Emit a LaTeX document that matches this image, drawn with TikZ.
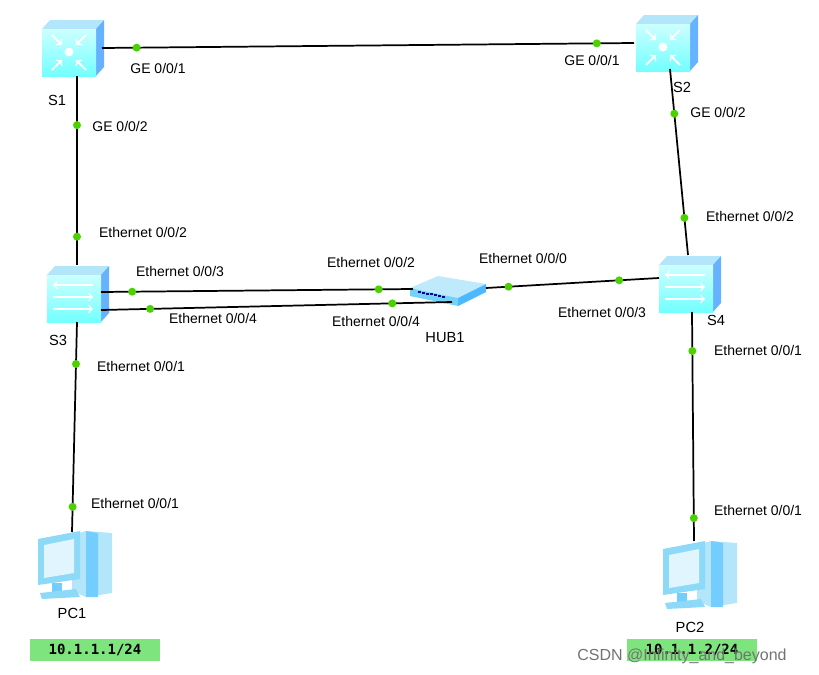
\documentclass[tikz,border=0pt]{standalone}
\usepackage{fontspec}
\setmainfont{Liberation Sans}
\newfontfamily\monof{DejaVu Sans Mono}
\begin{document}
\begin{tikzpicture}[x=0.75pt,y=-0.75pt,
  lbl/.style={font=\fontsize{10.5}{12}\selectfont,inner sep=0pt},
  dev/.style={font=\fontsize{11}{13}\selectfont,inner sep=0pt},
  link/.style={line width=1.3pt,black},
  port/.style={circle,fill=green!70!black!60!lime,inner sep=0pt,minimum size=6pt},
  ip/.style={fill=green!45!white!90!black,font=\monof\fontsize{10.5}{12}\selectfont\bfseries,minimum width=97pt,minimum height=17pt,inner sep=1pt},
  pics/switch/.style={code={
    \fill[cyan!30] (-30,-18) -- (-22,-27) -- (32,-27) -- (24,-18) -- cycle;
    \fill[blue!50!cyan!60] (24,-18) -- (32,-27) -- (32,20) -- (24,29) -- cycle;
    \shade[top color=cyan!20,bottom color=cyan!55] (-30,-18) rectangle (24,29);
  }},
  pics/hub/.style={code={
    \fill[cyan!25] (-38,-2) -- (-10,-14) -- (38,-6) -- (10,8) -- cycle;
    \fill[cyan!55] (-38,-2) -- (10,8) -- (10,16) -- (-38,6) -- cycle;
    \fill[blue!40!cyan!70] (10,8) -- (38,-6) -- (38,2) -- (10,16) -- cycle;
    \foreach \i in {0,...,6} \fill[blue!60!black] (-30+\i*4,1+\i*0.8) rectangle ++(2.5,2);
  }},
  pics/pc/.style={code={
    \fill[cyan!30] (0,-28) -- (14,-32) -- (40,-30) -- (40,30) -- (14,34) -- (0,28) -- cycle;
    \fill[blue!35!cyan!55] (14,-32) -- (26,-30) -- (26,34) -- (14,34) -- cycle;
    \fill[cyan!45] (-34,-24) -- (8,-32) -- (8,16) -- (-34,22) -- cycle;
    \fill[cyan!12] (-28,-18) -- (2,-24) -- (2,10) -- (-28,15) -- cycle;
    \fill[blue!35!cyan!55] (-20,20) rectangle (-10,30);
    \fill[cyan!45] (-32,30) -- (4,26) -- (8,34) -- (-30,36) -- cycle;
  }}
]
\useasboundingbox (0,0) rectangle (819,675);
\pic at (72,47) {switch};
\pic at (666,42) {switch};
\pic at (77,293) {switch};
\pic at (689,283) {switch};
\pic at (448,290) {hub};
\pic at (72,563) {pc};
\pic at (697,573) {pc};
\foreach \cx/\cy in {72/47,666/42}{
  \begin{scope}[shift={(\cx,\cy)}]
   \draw[white,line width=1.4pt,->] (-20,-12)--(-10,-2); \draw[white,line width=1.4pt,->] (14,-12)--(4,-2);
   \draw[white,line width=1.4pt,->] (-20,23)--(-10,13); \draw[white,line width=1.4pt,->] (14,23)--(4,13);
   \fill[white] (-3,5) circle (4.5);
  \end{scope}}
\foreach \cx/\cy in {77/293,689/283}{
  \begin{scope}[shift={(\cx,\cy)}]
   \draw[white,line width=1.3pt,->] (16,-8)--(-24,-8); \draw[white,line width=1.3pt,<-] (16,4)--(-24,4);
   \draw[white,line width=1.3pt,->] (-24,16)--(16,16);
  \end{scope}}
\node[dev] (S1) at (57,100) {S1};
\node[dev] (S2) at (682,87) {S2};
\node[dev] (S3) at (58,340) {S3};
\node[dev] (S4) at (716,320) {S4};
\node[dev] (HUB) at (445,338) {HUB1};
\node[dev] (PC1) at (72,613) {PC1};
\node[dev] (PC2) at (690,627) {PC2};
\coordinate (s1e) at (102,48); \coordinate (s2w) at (634,43);
\coordinate (s1s) at (77,76); \coordinate (s3n) at (77,265);
\coordinate (s2s) at (670,69); \coordinate (s4n) at (688,255);
\coordinate (s3e1) at (101,292); \coordinate (h1) at (413,289);
\coordinate (s3e2) at (101,310); \coordinate (h2) at (452,302);
\coordinate (h3) at (486,288); \coordinate (s4w) at (659,278);
\coordinate (s3s) at (77,322); \coordinate (pc1n) at (72,532);
\coordinate (s4s) at (692,312); \coordinate (pc2n) at (694,541);
\draw[link] (s1e) -- (s2w) node[port,pos=0.065]{} node[port,pos=0.93]{};
\draw[link] (s1s) -- (s3n) node[port,pos=0.26]{} node[port,pos=0.85]{};
\draw[link] (s2s) -- (s4n) node[port,pos=0.24]{} node[port,pos=0.8]{};
\draw[link] (s3e1) -- (h1) node[port,pos=0.1]{} node[port,pos=0.89]{};
\draw[link] (s3e2) -- (h2) node[port,pos=0.14]{} node[port,pos=0.83]{};
\draw[link] (h3) -- (s4w) node[port,pos=0.13]{} node[port,pos=0.77]{};
\draw[link] (s3s) -- (pc1n) node[port,pos=0.2]{} node[port,pos=0.88]{};
\draw[link] (s4s) -- (pc2n) node[port,pos=0.17]{} node[port,pos=0.9]{};
\node[lbl] at (158,68) {GE 0/0/1};
\node[lbl] at (592,60) {GE 0/0/1};
\node[lbl] at (120,126) {GE 0/0/2};
\node[lbl] at (143,232) {Ethernet 0/0/2};
\node[lbl] at (718,112) {GE 0/0/2};
\node[lbl] at (750,216) {Ethernet 0/0/2};
\node[lbl] at (180,271) {Ethernet 0/0/3};
\node[lbl] at (371,262) {Ethernet 0/0/2};
\node[lbl] at (213,318) {Ethernet 0/0/4};
\node[lbl] at (376,321) {Ethernet 0/0/4};
\node[lbl] at (523,258) {Ethernet 0/0/0};
\node[lbl] at (602,312) {Ethernet 0/0/3};
\node[lbl] at (141,366) {Ethernet 0/0/1};
\node[lbl] at (135,503) {Ethernet 0/0/1};
\node[lbl] at (758,350) {Ethernet 0/0/1};
\node[lbl] at (758,510) {Ethernet 0/0/1};
\node[ip] (ip1) at (95,650) {10.1.1.1/24};
\node[ip] (ip2) at (692,650) {10.1.1.2/24};
\node[font=\fontsize{12}{14}\selectfont,text=black!55] at (682,656) {CSDN @Infinity\_and\_beyond};
\end{tikzpicture}
\end{document}
